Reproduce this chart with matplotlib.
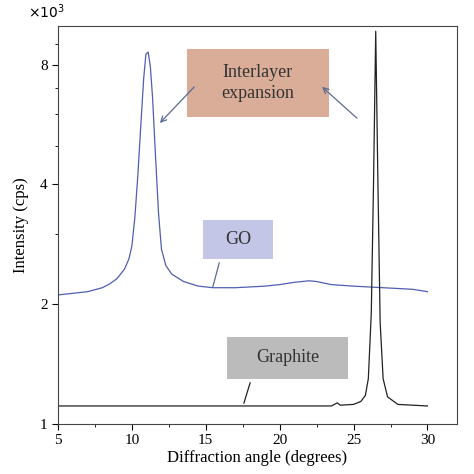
import matplotlib
matplotlib.use("Agg")
import matplotlib.pyplot as plt
from matplotlib.patches import Rectangle
from matplotlib.ticker import FixedLocator, NullFormatter

plt.rcParams['font.family'] = ['Liberation Serif', 'DejaVu Serif']

# GO trace (x in degrees, intensity in 10^3 cps)
go_x = [5, 6, 7, 8, 8.5, 9, 9.5, 9.8, 10, 10.2, 10.4, 10.6, 10.8, 10.95, 11.1, 11.25, 11.4,
        11.6, 11.8, 12.0, 12.3, 12.7, 13.5, 14.5, 15.5, 17, 18, 19, 20, 21, 22, 22.5,
        23.5, 25, 27, 29, 30]
go_y = [2.11, 2.13, 2.15, 2.20, 2.25, 2.32, 2.45, 2.6, 2.8, 3.3, 4.2, 5.6, 7.4, 8.5, 8.6, 7.9, 6.6,
        4.7, 3.4, 2.75, 2.5, 2.38, 2.28, 2.22, 2.2, 2.2, 2.21, 2.22, 2.24, 2.27, 2.29, 2.28,
        2.24, 2.22, 2.2, 2.18, 2.15]

# Graphite trace
gr_x = [5, 23.5, 23.9, 24.1, 25, 25.5, 25.8, 26.0, 26.2, 26.35, 26.5, 26.65, 26.8, 27.0,
        27.3, 28, 30]
gr_y = [1.11, 1.11, 1.13, 1.115, 1.12, 1.14, 1.18, 1.3, 1.9, 4.0, 9.7, 4.0, 1.8, 1.3,
        1.17, 1.12, 1.11]

fig = plt.figure(figsize=(4.74, 4.74), dpi=100)
ax = fig.add_axes([58/474, 50/474, 399/474, 398/474])
ax.plot(go_x, go_y, color='#4f5fb0', lw=0.9)
ax.plot(gr_x, gr_y, color='#222222', lw=0.9)

ax.set_yscale('log', base=2)
ax.set_xlim(5, 32)
ax.set_ylim(1, 10)
ax.set_xticks([5, 10, 15, 20, 25, 30])
ax.set_xticks([7.5, 12.5, 17.5, 22.5, 27.5], minor=True)
ax.yaxis.set_major_locator(FixedLocator([1, 2, 4, 8]))
ax.set_yticklabels(['1', '2', '4', '8'])
ax.yaxis.set_minor_locator(FixedLocator([3, 5, 6, 7, 9]))
ax.yaxis.set_minor_formatter(NullFormatter())
ax.tick_params(direction='out', labelsize=11, length=4)
ax.tick_params(which='minor', length=2)
for s in ax.spines.values():
    s.set_color('#444444')
ax.set_xlabel('Diffraction angle (degrees)', fontsize=12, labelpad=2)
ax.set_ylabel('Intensity (cps)', fontsize=12, labelpad=8)
fig.text(28/474, 1 - 12/474, r'$\times10^3$', fontsize=10, va='center')

def px(x, y):
    return x / 474, 1 - y / 474

def box(x0, y0, x1, y1, color, text):
    r = Rectangle(px(x0, y1), (x1 - x0) / 474, (y1 - y0) / 474,
                  transform=fig.transFigure, facecolor=color, edgecolor='none',
                  zorder=3, clip_on=False)
    ax.add_patch(r)
    ax.text(*px((x0 + x1) / 2, (y0 + y1) / 2), text, ha='center', va='center',
            fontsize=13, color='#333333', transform=fig.transFigure, zorder=4,
            linespacing=1.3)

box(187, 49, 329, 117, '#d9ad98', 'Interlayer\nexpansion')
box(203, 220, 273, 259, '#c3c6e6', 'GO')
box(227, 337, 348, 379, '#bbbbbb', 'Graphite')

def link(start, end, style, color):
    ax.annotate('', xy=px(*end), xytext=px(*start), xycoords='figure fraction',
                textcoords='figure fraction', zorder=5,
                arrowprops=dict(arrowstyle=style, color=color, lw=0.9))

link((196, 85), (158, 125), '->', '#5a6a90')
link((359, 120), (320, 85), '->', '#5a6a90')
link((220, 260), (212, 290), '-', '#5a6a90')
link((251, 380), (243, 406), '-', '#222222')

fig.savefig('out.png', dpi=100)
